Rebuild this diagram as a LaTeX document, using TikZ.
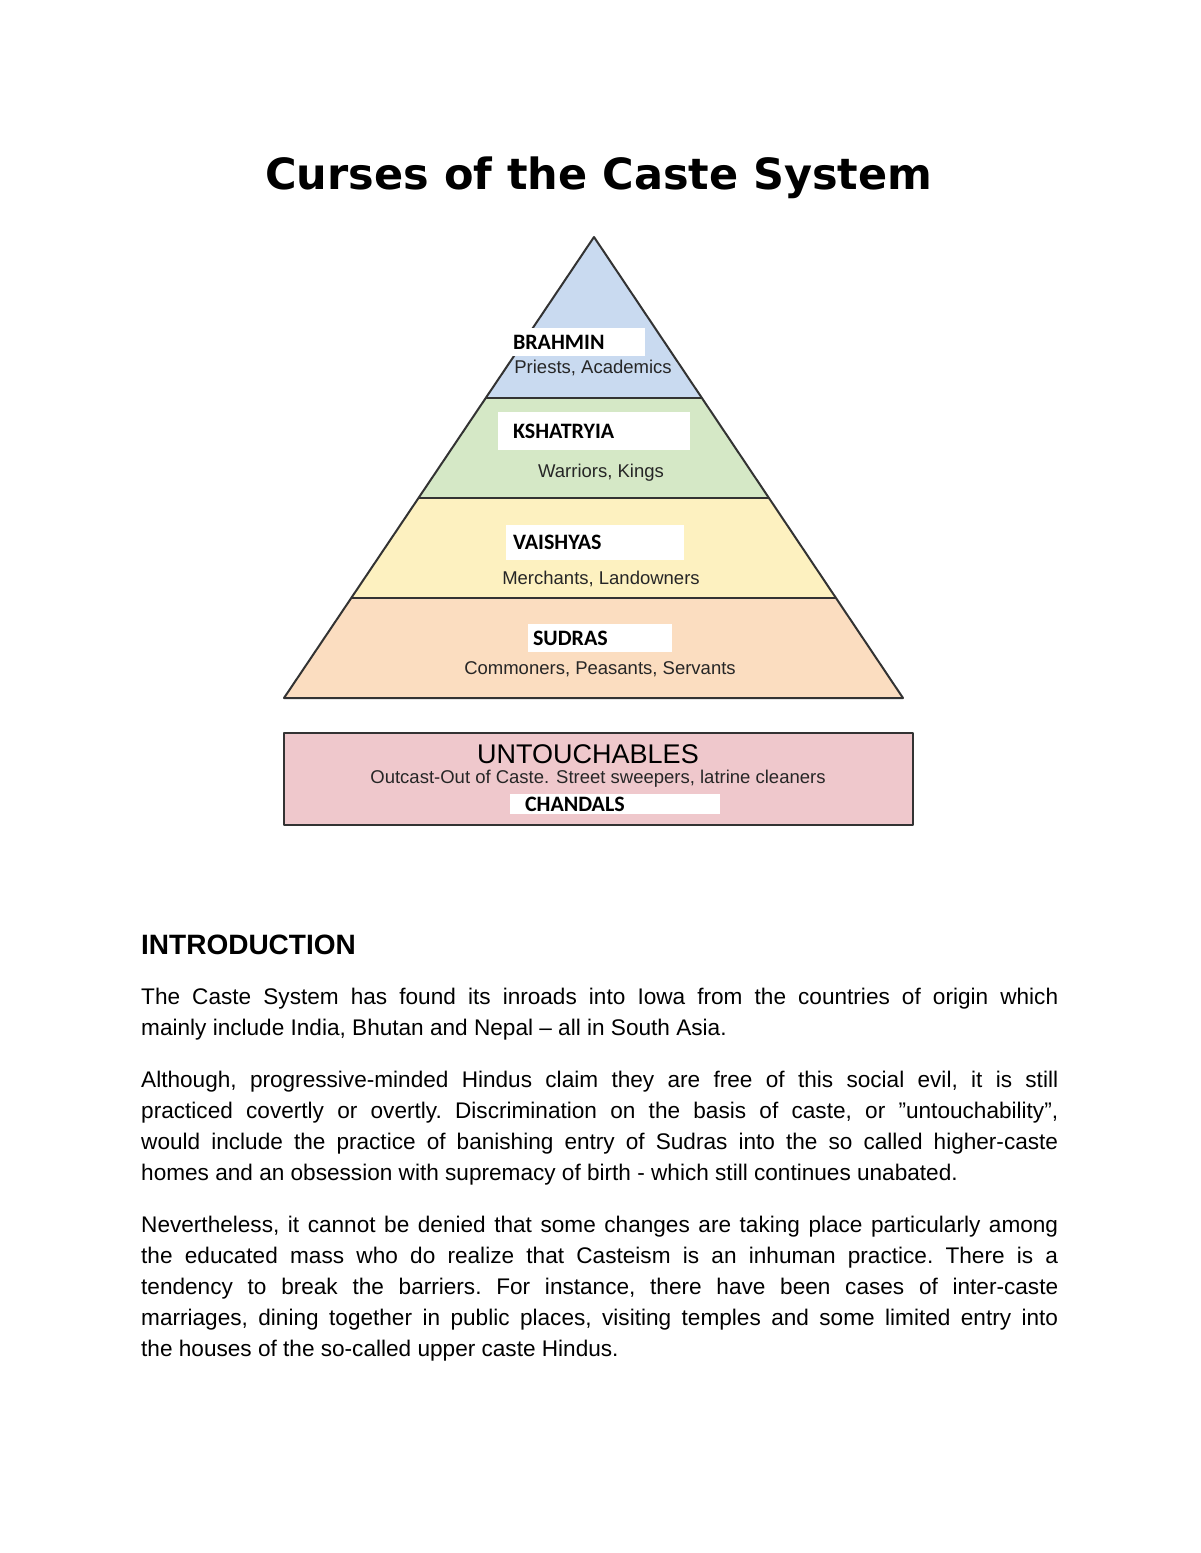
\documentclass[tikz,border=0pt]{standalone}
\usepackage{fontspec}
\setmainfont{Liberation Sans}
\newfontfamily\carl{Carlito}
\newfontfamily\dejav{DejaVu Sans}
\definecolor{cb}{HTML}{C9DAF0}
\definecolor{cg}{HTML}{D5E8C6}
\definecolor{cy}{HTML}{FDF1C0}
\definecolor{cp}{HTML}{FBDDC0}
\definecolor{ck}{HTML}{EFC8CC}
\definecolor{ln}{HTML}{333333}
\begin{document}
\begin{tikzpicture}[x=1pt,y=-1pt,
  band/.style={draw=ln,line width=2pt,line join=round},
  lab/.style={fill=white,inner sep=0pt,align=left,font=\carl\bfseries\fontsize{22}{22}\selectfont},
  sub/.style={inner sep=0pt,font=\fontsize{18.5}{18.5}\selectfont,text=black!85}]
\useasboundingbox (0,0) rectangle (1200,1553);
\node (title) at (599,178) {\dejav\fontsize{43}{43}\selectfont\bfseries Curses of the Caste System};
\fill[cb] (594,237) -- (486,398) -- (702,398) -- cycle;
\fill[cg] (486,398) -- (418.5,498) -- (769,498) -- (702,398) -- cycle;
\fill[cy] (418.5,498) -- (351,598) -- (836,598) -- (769,498) -- cycle;
\fill[cp] (351,598) -- (284,698) -- (903,698) -- (836,598) -- cycle;
\draw[band] (594,237) -- (284,698) -- (903,698) -- cycle;
\draw[band] (486,398) -- (702,398);
\draw[band] (418.5,498) -- (769,498);
\draw[band] (351,598) -- (836,598);
\node[lab,minimum width=136pt,minimum height=28pt,text width=128pt] (b) at (577,342) {BRAHMIN};
\node[sub] (bs) at (593,368) {Priests, Academics};
\node[lab,minimum width=192pt,minimum height=38pt,text width=162pt] (k) at (594,431) {KSHATRYIA};
\node[sub] (ks) at (601,473) {Warriors, Kings};
\node[lab,minimum width=178pt,minimum height=35pt,text width=164pt] (v) at (595,542) {VAISHYAS};
\node[sub] (vs) at (601,579) {Merchants, Landowners};
\node[lab,minimum width=144pt,minimum height=28pt,text width=134pt] (s) at (600,638) {SUDRAS};
\node[sub] (ss) at (600,669) {Commoners, Peasants, Servants};
\draw[band,fill=ck,line width=2.5pt] (284,733) rectangle (913,825);
\node[inner sep=0pt,font=\fontsize{27}{27}\selectfont] (u) at (588,754) {UNTOUCHABLES};
\node[sub] (us) at (598,779) {Outcast-Out of Caste. Street sweepers, latrine cleaners};
\node[lab,minimum width=210pt,minimum height=20pt,text width=180pt] (c) at (615,804) {CHANDALS};
\node[anchor=west,inner sep=0pt,font=\fontsize{28}{28}\selectfont\bfseries] (intro) at (141,945) {INTRODUCTION};
\node[anchor=north west,inner sep=0pt,text width=917pt,align=justify,font=\fontsize{22.6}{31}\selectfont] (body) at (141,988) {%
\frenchspacing\setlength{\parskip}{21pt}%
The Caste System has found its inroads into Iowa from the countries of origin which\linebreak mainly include India, Bhutan and Nepal -- all in South Asia.\par
Although, progressive-minded Hindus claim they are free of this social evil, it is still\linebreak practiced covertly or overtly. Discrimination on the basis of caste, or \symbol{34}untouchability\symbol{34},\linebreak would include the practice of banishing entry of Sudras into the so called higher-caste\linebreak homes and an obsession with supremacy of birth - which still continues unabated.\par
Nevertheless, it cannot be denied that some changes are taking place particularly among\linebreak the educated mass who do realize that Casteism is an inhuman practice. There is a\linebreak tendency to break the barriers. For instance, there have been cases of inter-caste\linebreak marriages, dining together in public places, visiting temples and some limited entry into\linebreak the houses of the so-called upper caste Hindus.\par};
\end{tikzpicture}
\end{document}
